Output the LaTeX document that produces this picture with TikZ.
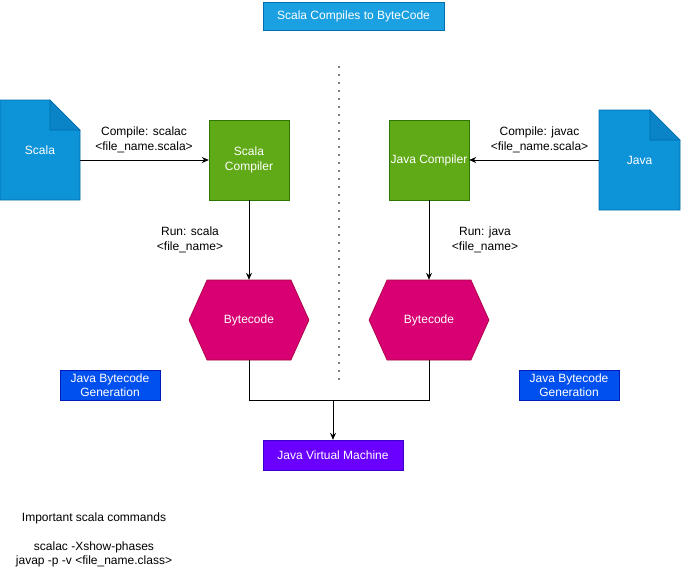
\documentclass[tikz,border=0pt]{standalone}
\usepackage{fontspec}
\setmainfont{Liberation Sans}
\usetikzlibrary{arrows.meta}
\definecolor{titlefill}{HTML}{1BA1E2}
\definecolor{docfill}{HTML}{0C93D8}
\definecolor{foldfill}{HTML}{0A84C6}
\definecolor{docline}{HTML}{006EAF}
\definecolor{grfill}{HTML}{60A917}
\definecolor{grline}{HTML}{2D7600}
\definecolor{mgfill}{HTML}{D80073}
\definecolor{mgline}{HTML}{A50040}
\definecolor{vmfill}{HTML}{6A00FF}
\definecolor{vmline}{HTML}{3700CC}
\definecolor{gnfill}{HTML}{0050EF}
\definecolor{gnline}{HTML}{001DBC}
\begin{document}
\begin{tikzpicture}[x=1pt,y=-1pt,
  every node/.style={font=\fontsize{12}{14.5}\selectfont, inner sep=0pt, align=center},
  wtext/.style={text=white},
  greenbox/.style={draw=grline, fill=grfill, text=white, minimum width=80pt, minimum height=80pt},
  bluebox/.style={draw=docline, fill=titlefill, text=white, minimum height=28pt},
  genbox/.style={draw=gnline, fill=gnfill, text=white, minimum width=100pt, minimum height=30pt},
  vmbox/.style={draw=vmline, fill=vmfill, text=white, minimum width=140pt, minimum height=30pt},
  conn/.style={line width=0.8pt, -{Stealth[length=7pt,width=6pt]}},
  plainconn/.style={line width=0.8pt},
  docshape/.style={draw=docline, fill=docfill, line width=0.6pt},
  foldshape/.style={draw=docline, fill=foldfill, line width=0.6pt},
  hexshape/.style={draw=mgline, fill=mgfill, line width=0.6pt},
  lbl/.style={text=black}
]
\useasboundingbox (0,0) rectangle (688,573);

% title
\node[bluebox, minimum width=181pt] (title) at (353.5,16) {Scala Compiles to ByteCode};

% Scala document
\draw[docshape] (0,100) -- (50,100) -- (80,130) -- (80,200) -- (0,200) -- cycle;
\draw[foldshape] (50,100) -- (80,130) -- (50,130) -- cycle;
\node[wtext, minimum width=80pt, minimum height=100pt] (scala) at (40,150) {Scala};

% Java document
\draw[docshape] (599,110) -- (650,110) -- (680,140) -- (680,210) -- (599,210) -- cycle;
\draw[foldshape] (650,110) -- (680,140) -- (650,140) -- cycle;
\node[wtext, minimum width=81pt, minimum height=100pt] (java) at (639.5,160) {Java};

% compilers
\node[greenbox] (scomp) at (249,160) {Scala\\Compiler};
\node[greenbox] (jcomp) at (429,160) {Java Compiler};

% bytecode hexagons
\draw[hexshape] (189,320) -- (207,280) -- (291,280) -- (309,320) -- (291,360) -- (207,360) -- cycle;
\node[wtext, minimum width=120pt, minimum height=80pt] (sbyte) at (249,320) {Bytecode};
\draw[hexshape] (369,320) -- (387,280) -- (471,280) -- (489,320) -- (471,360) -- (387,360) -- cycle;
\node[wtext, minimum width=120pt, minimum height=80pt] (jbyte) at (429,320) {Bytecode};

% JVM
\node[vmbox] (jvm) at (333,455) {Java Virtual Machine};

% generation boxes
\node[genbox] (sgen) at (110,385) {Java Bytecode\\Generation};
\node[genbox] (jgen) at (569,385) {Java Bytecode\\Generation};

% dotted separator
\coordinate (dtop) at (339,67);
\coordinate (dbot) at (339,381);
\draw[line width=1.6pt, dash pattern=on 0pt off 8pt, line cap=round] (dtop) -- (dbot);

% connectors
\draw[conn] (scala.east |- 0,160) -- (scomp.west);
\node[lbl] (slbl) at (144,140) {Compile: scalac\\<file\_name.scala>};
\draw[conn] (java.west |- 0,160) -- (jcomp.east);
\node[lbl] (jlbl) at (539.5,140) {Compile: javac\\<file\_name.scala>};

\draw[conn] (scomp.south) -- (sbyte.north);
\node[lbl] (srun) at (190,240) {Run: scala\\<file\_name>};
\draw[conn] (jcomp.south) -- (jbyte.north);
\node[lbl] (jrun) at (485,240) {Run: java\\<file\_name>};

\coordinate (join) at (333,400);
\draw[plainconn] (sbyte.south) -- (249,400) -- (join);
\draw[plainconn] (jbyte.south) -- (429,400) -- (join);
\draw[conn] (join) -- (jvm.north);

% notes
\node[lbl] (notes) at (94,540) {Important scala commands\\[14.5pt]scalac -Xshow-phases\\javap -p -v <file\_name.class>};
\end{tikzpicture}
\end{document}
